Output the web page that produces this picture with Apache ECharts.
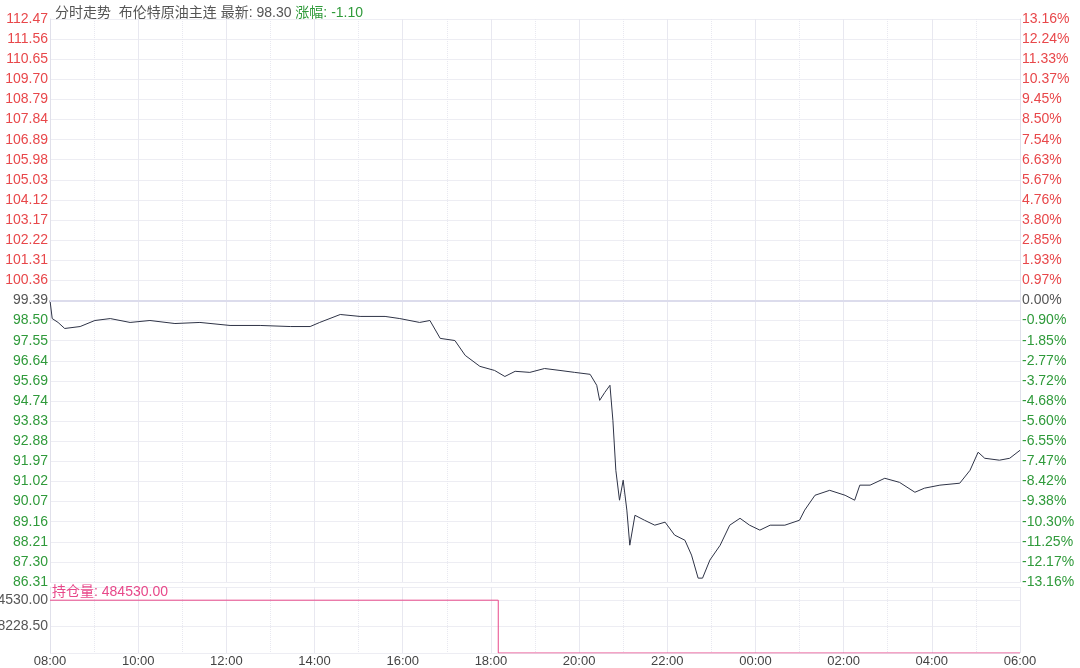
<!DOCTYPE html>
<html>
<head>
<meta charset="utf-8">
<script src="https://cdn.jsdelivr.net/npm/echarts@6/dist/echarts.min.js"></script>
<style>html,body{margin:0;padding:0;background:#fff}#c{width:1080px;height:668px}</style>
</head>
<body>
<div id="c"></div>
<script>
// 价格刻度（从下到上）
var priceLabels = ['86.31','87.30','88.21','89.16','90.07','91.02','91.97','92.88','93.83','94.74','95.69','96.64','97.55','98.50','99.39',
    '100.36','101.31','102.22','103.17','104.12','105.03','105.98','106.89','107.84','108.79','109.70','110.65','111.56','112.47'];
var pctLabels = ['-13.16%','-12.17%','-11.25%','-10.30%','-9.38%','-8.42%','-7.47%','-6.55%','-5.60%','-4.68%','-3.72%','-2.77%','-1.85%','-0.90%','0.00%',
    '0.97%','1.93%','2.85%','3.80%','4.76%','5.67%','6.63%','7.54%','8.50%','9.45%','10.37%','11.33%','12.24%','13.16%'];
var timeLabels = ['08:00','10:00','12:00','14:00','16:00','18:00','20:00','22:00','00:00','02:00','04:00','06:00'];
// 分钟（自08:00起）与价格
var minutes = [0,3,11,20,41,61,82,109,136,170,204,245,286,327,354,367,395,422,456,476,503,517,531,551,565,585,605,619,633,653,673,694,714,735,744,748,755,762,766,770,775,780,785,789,796,809,823,837,850,864,873,882,888,898,912,925,939,952,966,980,1000,1020,1027,1041,1061,1082,1095,1102,1116,1136,1156,1177,1190,1211,1238,1252,1263,1272,1292,1306,1320];
var prices = [99.39,98.55,98.37,98.09,98.18,98.46,98.55,98.37,98.46,98.32,98.37,98.23,98.23,98.18,98.18,98.37,98.74,98.65,98.65,98.55,98.37,98.46,97.63,97.53,96.84,96.33,96.14,95.86,96.10,96.05,96.23,96.14,96.05,95.96,95.45,94.75,95.12,95.45,93.82,91.50,90.11,91.04,89.65,88.02,89.41,89.18,88.95,89.09,88.49,88.25,87.56,86.49,86.49,87.33,88.02,88.95,89.27,88.95,88.72,88.95,88.95,89.18,89.65,90.34,90.57,90.34,90.11,90.81,90.81,91.13,90.94,90.48,90.67,90.81,90.90,91.50,92.34,92.06,91.97,92.06,92.43];
var oiMinutes = [0,610,610,1320];
var oiValues = [484530,484530,471927,471927];

var pMin = 86.31, pMax = 112.47, pStep = (pMax - pMin) / 28;
function idx(v) { return Math.round((v - pMin) / pStep); }
function labelColor(v) { var i = idx(v); return i > 14 ? '#e8474a' : (i < 14 ? '#2f9a3a' : '#555'); }

var chart = echarts.init(document.getElementById('c'));
var font = 'Arial, "Noto Sans CJK SC", sans-serif';
var option = {
    animation: false,
    textStyle: { fontFamily: font },
    title: {
        left: 50, top: 1,
        text: '{a|分时走势  布伦特原油主连 最新: 98.30 }{b|涨幅: -1.10}',
        textStyle: { rich: {
            a: { color: '#555', fontSize: 14, fontWeight: 'normal', fontFamily: font },
            b: { color: '#2f9a3a', fontSize: 14, fontWeight: 'normal', fontFamily: font } } }
    },
    graphic: [{ type: 'text', left: 52, top: 585, z: 10, style: { text: '持仓量: 484530.00', fill: '#e8488a', font: '14px ' + font } }],
    grid: [
        { left: 50, right: 60, top: 19, height: 563, containLabel: false, outerBoundsMode: 'none' },
        { left: 50, right: 60, top: 587, height: 66, containLabel: false, outerBoundsMode: 'none' }
    ],
    xAxis: [
        { type: 'value', gridIndex: 0, min: 0, max: 1320, interval: 120, axisLabel: { show: false },
          axisLine: { show: false }, axisTick: { show: false },
          splitLine: { lineStyle: { color: '#e8e8f0' } },
          minorTick: { show: false, splitNumber: 2 }, minorSplitLine: { show: true, lineStyle: { color: '#e8e8f0', type: 'dotted' } } },
        { type: 'value', gridIndex: 1, min: 0, max: 1320, interval: 120,
          axisLabel: { color: '#444', fontSize: 13, margin: 2, formatter: function (v) { return timeLabels[v / 120]; } },
          axisLine: { show: false }, axisTick: { show: false },
          splitLine: { lineStyle: { color: '#e8e8f0' } },
          minorTick: { show: false, splitNumber: 2 }, minorSplitLine: { show: true, lineStyle: { color: '#e8e8f0', type: 'dotted' } } }
    ],
    yAxis: [
        { type: 'value', gridIndex: 0, min: pMin, max: pMax, interval: pStep, position: 'left',
          axisLine: { show: true, lineStyle: { color: '#e0e0ea' } }, axisTick: { show: false },
          axisLabel: { fontSize: 14, margin: 2, formatter: function (v) { return priceLabels[idx(v)]; }, color: labelColor },
          splitLine: { lineStyle: { color: '#ededf3' } } },
        { type: 'value', gridIndex: 0, min: pMin, max: pMax, interval: pStep, position: 'right',
          axisLine: { show: true, lineStyle: { color: '#e0e0ea' } }, axisTick: { show: false },
          axisLabel: { fontSize: 14, margin: 2, formatter: function (v) { return pctLabels[idx(v)]; }, color: labelColor },
          splitLine: { show: false } },
        { type: 'value', gridIndex: 1, min: 471927, max: 487680.75, interval: 6301.5,
          axisLine: { show: true, lineStyle: { color: '#e0e0ea' } }, axisTick: { show: false },
          axisLabel: { fontSize: 14, margin: 2, color: '#555', showMinLabel: false, showMaxLabel: false,
              formatter: function (v) { return v.toFixed(2); } },
          splitLine: { lineStyle: { color: '#ededf3' } } }
    ],
    series: [
        { type: 'line', xAxisIndex: 0, yAxisIndex: 0, symbol: 'none',
          data: minutes.map(function (m, i) { return [m, prices[i]]; }),
          lineStyle: { color: '#2e3346', width: 1 },
          markLine: { silent: true, symbol: 'none', label: { show: false },
              lineStyle: { color: '#dcdcec', width: 2, type: 'solid' }, data: [{ yAxis: 99.39 }] } },
        { type: 'line', xAxisIndex: 1, yAxisIndex: 2, symbol: 'none',
          data: oiMinutes.map(function (m, i) { return [m, oiValues[i]]; }),
          lineStyle: { color: '#e8488a', width: 1 } }
    ]
};
chart.setOption(option);
window.addEventListener('resize', function () { chart.resize(); });
</script>
</body>
</html>
